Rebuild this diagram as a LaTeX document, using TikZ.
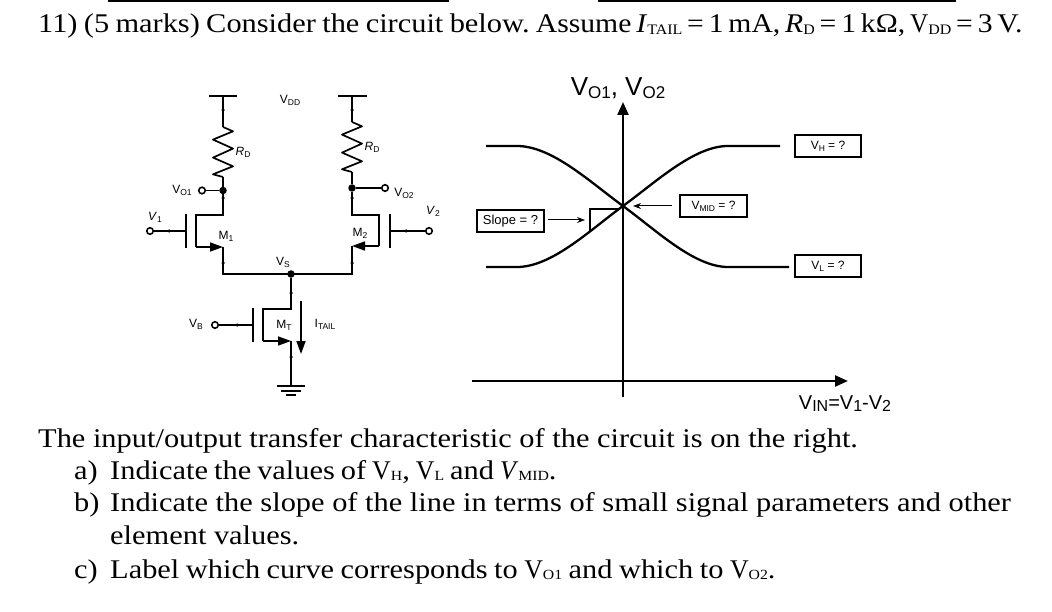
\documentclass[tikz,border=0pt]{standalone}
\usepackage{fontspec}
\setmainfont[FakeStretch=1.126]{Liberation Serif}
\setsansfont{Liberation Sans}
\usetikzlibrary{calc, positioning, arrows.meta}
\tikzset{
		>=stealth
	}
\frenchspacing
\newcommand{\narv}[1]{\scalebox{0.85}[1]{#1}}
\newcommand{\lowtx}[1]{\raisebox{-1.5pt}{\fontsize{14}{14}\selectfont #1}}
\newcommand{\ttltx}[1]{\raisebox{-1.5pt}{\fontsize{14.5}{14.5}\selectfont #1}}
\newcommand{\cirtx}[2]{#1\raisebox{-2pt}{\fontsize{8.5}{8.5}\selectfont #2}}
\newcommand{\plotx}[2]{#1\raisebox{-3pt}{\fontsize{17}{17}\selectfont #2}}
\newcommand{\vintx}[1]{\raisebox{-2pt}{\fontsize{16}{16}\selectfont #1}}

\begin{document}
\begin{tikzpicture}[x=1pt, y=-1pt,
		wire/.style={draw, line width=1.7pt, black},
		curve/.style={draw, line width=2.3pt, black},
		axis/.style={draw, line width=2.3pt, black, -{Triangle[length=13pt,width=11pt]}},
		mosarrow/.style={draw, line width=1.7pt, -{Triangle[length=13pt,width=9pt]}},
		thin arrow/.style={draw, line width=1pt, -{Stealth[length=8pt,width=6pt]}},
		plate/.style={draw, line width=2pt},
		joint/.style={circle, fill=black, inner sep=0pt, minimum size=7.5pt},
		dot/.style={circle, fill=black, inner sep=0pt, minimum size=3.5pt},
		term/.style={circle, draw, line width=1.6pt, fill=white, inner sep=0pt, minimum size=6.5pt},
		lab/.style={font=\sffamily\fontsize{12}{12}\selectfont, inner sep=0pt},
		valuebox/.style={draw, line width=1.8pt, font=\sffamily\fontsize{12}{12}\selectfont, inner sep=0pt, minimum height=22pt},
		line/.style={anchor=base west, inner sep=0pt, font=\fontsize{27}{27}\selectfont},
		res/.pic={\draw[line width=1.7pt, line join=round] (0,0) -- (10,4.3) -- (-10,12.6) -- (10,21.6) -- (-10,30.6) -- (10,39.3) -- (-10,47.3) -- (0,50);}
	]
	\useasboundingbox (0,0) rectangle (1052,612);

	% text above and below
	\draw[line width=1.6pt] (108,1) -- (449,1);
	\draw[line width=1.6pt] (598,1) -- (956,1);
	\node[line] (title) at (38,33) {{\spaceskip=6.3pt 11) (5 marks) Consider the circuit below. }\scalebox{0.975}[1]{\spaceskip=5pt Assume \textit{I}\ttltx{TAIL} = 1 mA, \textit{R}\ttltx{D} = 1 kΩ, \narv{V}\ttltx{DD} = 3 V.}};
	\node[line] (q0) at (38,447) {The input/output transfer characteristic of the circuit is on the right.};
	\node[line] (qa) at (74,479) {\makebox[36pt][l]{a)}\spaceskip=6pt Indicate the values of \narv{V}\lowtx{H}, \narv{V}\lowtx{L} and \narv{\textit{V}}\lowtx{MID}.};
	\node[line] (qb) at (74,511) {\makebox[36pt][l]{b)}Indicate the slope of the line in terms of small signal parameters and other};
	\node[line] (qb2) at (110,544) {element values.};
	\node[line] (qc) at (74,578) {\makebox[36pt][l]{c)}\spaceskip=6.5pt Label which curve corresponds to \narv{V}\lowtx{O1} and which to \narv{V}\lowtx{O2}.};

	% left branch
	\coordinate (vdd1) at (223,96);
	\coordinate (r1top) at (223,127);
	\coordinate (r1bot) at (223,177);
	\node[joint] (o1) at (223,190.5) {};
	\coordinate (d1) at (223,215);
	\coordinate (d1c) at (196,215);
	\coordinate (s1c) at (196,247);
	\coordinate (s1) at (223,247);
	\node[term] (to1) at (202,190.5) {};
	\node[term] (v1) at (150,231) {};
	\coordinate (g1) at (186,231);
	\draw[plate] (186,214) -- (186,248);
	\draw[line width=2pt] (209,96) -- (237,96);
	\draw[wire] (vdd1) -- (r1top);
	\pic at (r1top) {res};
	\draw[wire] (r1bot) -- (o1);
	\draw[wire] (o1) -- (to1);
	\draw[wire] (o1) -- (d1) -- (d1c) -- (s1c);
	\draw[mosarrow] (s1c) -- (s1);
	\draw[wire] (v1) -- (g1);
	\node[dot] at (223,110) {};
	\node[dot] at (223,198) {};
	\node[dot] at (169,231) {};
	\node[dot] at (223,263) {};

	% right branch
	\coordinate (vdd2) at (352,96);
	\coordinate (r2top) at (352,122);
	\coordinate (r2bot) at (352,172);
	\node[joint] (o2) at (352,188) {};
	\coordinate (d2) at (352,215);
	\coordinate (d2c) at (379,215);
	\coordinate (s2c) at (379,246);
	\coordinate (s2) at (352,246);
	\node[term] (to2) at (385,188) {};
	\node[term] (v2) at (429,231) {};
	\coordinate (g2) at (390,231);
	\draw[plate] (390,214) -- (390,248);
	\draw[line width=2pt] (338,96) -- (367,96);
	\draw[wire] (vdd2) -- (r2top);
	\pic at (r2top) {res};
	\draw[wire] (r2bot) -- (o2);
	\draw[wire] (o2) -- (to2);
	\draw[wire] (o2) -- (d2) -- (d2c) -- (s2c);
	\draw[mosarrow] (s2c) -- (s2);
	\draw[wire] (v2) -- (g2);
	\node[dot] at (352,110) {};
	\node[dot] at (352,198) {};
	\node[dot] at (406,231) {};
	\node[dot] at (352,263) {};

	% tail
	\node[joint] (vs) at (291,274) {};
	\coordinate (bus1) at (223,274);
	\coordinate (bus2) at (352,274);
	\coordinate (dt) at (291,309);
	\coordinate (dtc) at (263,309);
	\coordinate (stc) at (263,341);
	\coordinate (st) at (291,341);
	\coordinate (gnd) at (291,386);
	\node[term] (vb) at (215,325) {};
	\coordinate (gt) at (253,325);
	\draw[wire] (s1) -- (bus1) -- (bus2) -- (s2);
	\draw[wire] (vs) -- (dt) -- (dtc) -- (stc);
	\draw[mosarrow] (stc) -- (st);
	\draw[wire] (st) -- (gnd);
	\draw[wire] (vb) -- (gt);
	\draw[plate] (253,308) -- (253,342);
	\draw[line width=1.7pt] (277,386) -- (305,386);
	\draw[line width=1.7pt] (281,391) -- (301,391);
	\draw[line width=1.9pt] (286,395) -- (296,395);
	\draw[line width=1.7pt, -{Triangle[length=13pt,width=9pt]}] (301,301) -- (301,354);
	\node[dot] at (291,293) {};
	\node[dot] at (291,357) {};
	\node[dot] at (237,325) {};

	% circuit labels
	\node[lab] (lvdd) at (290,100) {\cirtx{V}{DD}};
	\node[lab] (lrd1) at (243,152) {\cirtx{\textit{R}}{D}};
	\node[lab] (lrd2) at (372,147) {\cirtx{\textit{R}}{D}};
	\node[lab] (lo1) at (182,190) {\cirtx{V}{O1}};
	\node[lab] (lo2) at (404,193) {\cirtx{V}{O2}};
	\node[lab] (lv1) at (155,217) {\cirtx{\textit{V}}{1}};
	\node[lab] (lv2) at (433,211) {\cirtx{\textit{V}}{2}};
	\node[lab] (lm1) at (226,236) {\cirtx{M}{1}};
	\node[lab] (lm2) at (360,233) {\cirtx{M}{2}};
	\node[lab] (lvs) at (283,262) {\cirtx{V}{S}};
	\node[lab] (lvb) at (196,324) {\cirtx{V}{B}};
	\node[lab] (lmt) at (284,325) {\cirtx{M}{T}};
	\node[lab] (lit) at (325,324) {\cirtx{I}{TAIL}};

	% transfer characteristic
	\coordinate (ybot) at (623,397);
	\coordinate (ytop) at (623,102);
	\coordinate (xleft) at (472,381);
	\coordinate (xright) at (848,381);
	\coordinate (mid) at (623,206);
	\draw[axis] (ybot) -- (ytop);
	\draw[axis] (xleft) -- (xright);
	\draw[curve] (486,146) -- (517,146) .. controls (552,146) and (590,182) .. (mid) .. controls (656,230) and (694,267) .. (728,267) -- (789,267);
	\draw[curve] (486,267) -- (517,267) .. controls (552,267) and (590,230) .. (mid) .. controls (656,182) and (694,146) .. (728,146) -- (780,146);
	\coordinate (slopetop) at (619,209);
	\coordinate (slopecor) at (590,209);
	\coordinate (slopebot) at (590,232);
	\draw[line width=1.7pt] (slopetop) -- (slopecor) -- (slopebot);

	\node[font=\sffamily\fontsize{26}{26}\selectfont, inner sep=0pt] (ltitle) at (618,88) {\plotx{V}{O1}, \plotx{V}{O2}};
	\node[font=\sffamily\fontsize{20}{20}\selectfont, inner sep=0pt] (lvin) at (845,404) {V\vintx{IN}=V\vintx{1}-V\vintx{2}};

	\node[valuebox, minimum width=67pt, font=\sffamily\fontsize{13}{13}\selectfont] (bslope) at (510.5,221) {Slope = ?};
	\node[valuebox, minimum width=67pt] (bmid) at (713.5,206) {\cirtx{V}{MID} = ?};
	\node[valuebox, minimum width=66pt] (bh) at (828,146) {\cirtx{V}{H} = ?};
	\node[valuebox, minimum width=66pt] (bl) at (828,266) {\cirtx{V}{L} = ?};
	\coordinate (slopetip) at (585,220);
	\coordinate (midtail) at (672,206);
	\coordinate (midtip) at (633,206);
	\draw[thin arrow] ($(bslope.east)+(3,-1)$) -- (slopetip);
	\draw[thin arrow] (midtail) -- (midtip);
\end{tikzpicture}
\end{document}
